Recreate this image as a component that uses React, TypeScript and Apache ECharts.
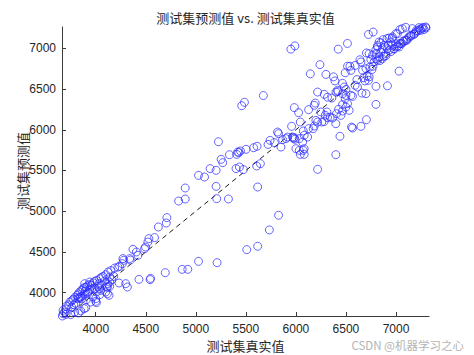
import React, { useEffect, useRef } from 'react';
import * as echarts from 'echarts';

const titleText = '测试集预测值 vs. 测试集真实值';
const xName = '测试集真实值';
const yName = '测试集预测值';
const watermark = 'CSDN @机器学习之心';
const xTicks = [4000, 4500, 5000, 5500, 6000, 6500, 7000];
const yTicks = [4000, 4500, 5000, 5500, 6000, 6500, 7000];
const xRange = [3663, 7330];
const yRange = [3713, 7262];
const diagonal = [3690, 7300];

// [actual, predicted]
const lowerLeftUpper = [
  [3667, 3713], [3675, 3740], [3690, 3760], [3674, 3783], [3700, 3800], [3708, 3832], [3730, 3850],
  [3741, 3885], [3760, 3900], [3774, 3918], [3790, 3940], [3814, 3967], [3825, 3985], [3840, 4008],
  [3860, 4030], [3873, 4049], [3890, 4065], [3907, 4069], [3920, 4085], [3940, 4100], [3957, 4090],
  [3975, 4120], [3990, 4139], [4010, 4150], [4040, 4172], [4055, 4185], [4073, 4200], [4100, 4220],
  [4123, 4253], [4150, 4270], [4189, 4302], [4222, 4314], [4239, 4323], [4266, 4356], [4272, 4418],
  [4279, 4397], [4339, 4418], [4345, 4400], [4372, 4532], [4406, 4499], [4422, 4458], [4488, 4540],
  [4498, 4560], [4521, 4621], [4531, 4663], [4588, 4676], [4626, 4806], [4705, 4855], [4711, 4921],
];

const lowerLeftBand = [
  [3823, 3926], [3830, 3940], [3845, 3935], [3850, 3950], [3860, 3925], [3870, 3960], [3890, 3979],
  [3897, 4020], [3907, 3914], [3923, 4008], [3940, 4030], [3960, 4045], [3973, 3946], [3990, 4049],
  [4007, 4008], [4020, 4075], [4033, 4110], [4040, 4049], [4060, 4090], [4090, 4142], [4107, 4069],
  [4120, 4110], [4140, 4130], [4140, 4192], [4160, 4160], [4180, 4200], [3890, 4110], [3940, 4130],
  [3920, 3990], [3800, 3870], [3780, 3850], [3760, 3820],
];

const lowerBranch = [
  [3703, 3733], [3750, 3730], [3790, 3762], [3827, 3750], [3850, 3775], [3884, 3803], [3900, 3815],
  [3950, 3885], [4000, 3893], [4007, 3877], [4000, 3926], [4040, 3975], [4050, 4028], [4100, 4008],
  [4117, 3988], [4133, 3967], [4117, 4069], [4140, 4077], [4233, 4118], [4299, 4110], [4316, 4069],
  [4432, 4163], [4548, 4175], [4543, 4160], [4695, 4245], [4864, 4286], [4920, 4286], [5027, 4384],
  [5213, 4368], [5509, 4528], [5618, 4569], [5735, 4770], [5827, 4950],
];

const middle = [
  [4894, 5285], [4894, 5150], [4828, 5125], [5027, 5440], [5087, 5420], [5143, 5523], [5203, 5502],
  [5253, 5637], [5269, 5596], [5336, 5694], [5203, 5305], [5209, 5154], [5326, 5150], [5409, 5698],
  [5419, 5727], [5429, 5720], [5446, 5740], [5402, 5523], [5436, 5543], [5476, 5511], [5502, 5760],
  [5578, 5780], [5612, 5797], [5608, 5555], [5645, 5584], [5618, 5297], [5226, 5853], [5459, 6295],
  [5486, 6337], [5675, 6420], [5722, 5820], [5742, 5870], [5785, 5842], [5817, 5972], [5827, 5952],
  [5851, 5788], [5901, 5891], [5867, 5879], [5917, 5911], [5967, 5911], [5984, 5903], [5990, 5883],
  [5975, 5895], [6034, 5891], [6067, 5849], [6117, 5911], [6000, 5768], [6034, 5747], [6044, 5698],
  [6083, 5698], [6074, 5747], [6083, 5768], [6217, 5514], [6399, 5694], [5957, 6042], [6044, 6095],
  [6074, 5985], [6083, 5932], [6127, 6014], [6173, 6014], [6183, 6046], [5984, 6272], [6027, 6210],
  [6127, 6247], [6183, 6300], [6193, 6328], [6250, 6218], [6310, 6218], [6293, 6177], [6200, 6115],
  [6217, 6095], [6260, 6095], [6283, 6102], [6316, 6149], [6343, 6156], [6366, 6144], [6406, 6198],
  [6426, 6251], [6466, 6309], [6450, 6177], [6399, 6075], [6440, 5920], [6566, 6021], [6650, 6042],
  [6705, 6124], [6800, 6312], [6532, 6239], [6493, 6382], [6516, 6321], [6360, 6390], [6500, 6279],
  [6466, 6230], [6556, 6033],
];

const upperScatter = [
  [5950, 6990], [5990, 7030], [6423, 6990], [6515, 7060], [6725, 7170], [6772, 7200], [6144, 6687],
  [6240, 6800], [6300, 6680], [6376, 6650], [6390, 6600], [6217, 6463], [6283, 6435], [6316, 6400],
  [6420, 6468], [6400, 6463], [6416, 6484], [6466, 6443], [6500, 6423], [6500, 6495], [6550, 6423],
  [6566, 6410], [6592, 6546], [6615, 6525], [6660, 6450], [6700, 6443], [6466, 6570], [6483, 6525],
  [6800, 6533], [6915, 6540], [7031, 6720], [6493, 6700], [6550, 6730], [6516, 6780], [6540, 6780],
  [6592, 6790], [6640, 6860], [6650, 6832], [6666, 6730], [6610, 6616], [6690, 6600], [6725, 6607],
  [6732, 6650], [6677, 6640], [6711, 6660], [6705, 6943], [6732, 6935], [6765, 6914], [6749, 6862],
  [6781, 6832], [6815, 6853], [6700, 6750], [6740, 6770], [6760, 6740],
];

const upperBand = [
  [6800, 6873], [6800, 6984], [6815, 7033], [6849, 7066], [6872, 7107], [6931, 7127], [6964, 7120],
  [6924, 7036], [6999, 7057], [7014, 7180], [7064, 7242], [7097, 7258], [7040, 7230], [6911, 7120],
  [6831, 7078], [6815, 7016], [6849, 6955], [6800, 6935], [6831, 6894], [6864, 6873], [6881, 7036],
  [6864, 6996], [6898, 6935], [6948, 7078], [6964, 7036], [6931, 6975], [6915, 6996], [7047, 7057],
  [7031, 7016], [6981, 6996], [6998, 7180], [6964, 7139], [7131, 7139], [7114, 7119], [7097, 7098],
  [7071, 7090], [7164, 7242], [7204, 7221], [7181, 7180], [7147, 7160], [7230, 7254], [7270, 7258],
  [7297, 7262], [7300, 7250], [7280, 7230], [7247, 7221], [7180, 7170], [7200, 7200], [7220, 7215],
  [7240, 7235], [7260, 7245], [7150, 7150], [7110, 7100], [7060, 7060], [7080, 7085], [7020, 7030],
  [6950, 6960], [6900, 6910], [6880, 6900], [6840, 6850], [6980, 6990], [7010, 7020], [7040, 7060],
  [6770, 6780],
];

const points = [
  ...lowerLeftUpper, ...lowerLeftBand, ...lowerBranch, ...middle, ...upperScatter, ...upperBand,
];

const axisColor = '#3a3a3a';
const numFont = 'Liberation Sans, Arial, sans-serif';
const cjkFont = 'Noto Sans CJK SC, sans-serif';

export default function App() {
  const ref = useRef<HTMLDivElement>(null);
  useEffect(() => {
    if (!ref.current) return;
    const chart = echarts.init(ref.current, null, { renderer: 'svg' });
    const axisCommon = {
      type: 'value' as const,
      splitLine: { show: false },
      axisLine: { show: true, lineStyle: { color: axisColor, width: 1 } },
      axisTick: { show: true, inside: true, length: 4, lineStyle: { color: axisColor, width: 1 } },
    };
    chart.setOption({
      animation: false,
      backgroundColor: '#ffffff',
      grid: { left: 62, right: 45, top: 27, bottom: 39, containLabel: false },
      xAxis: {
        ...axisCommon,
        min: xRange[0],
        max: xRange[1],
        axisTick: { ...axisCommon.axisTick, customValues: xTicks },
        axisLabel: {
          customValues: xTicks,
          formatter: (v: number) => String(v),
          color: '#262626',
          fontSize: 12,
          fontFamily: numFont,
          margin: 7,
        },
      },
      yAxis: {
        ...axisCommon,
        min: yRange[0],
        max: yRange[1],
        axisTick: { ...axisCommon.axisTick, customValues: yTicks },
        axisLabel: {
          customValues: yTicks,
          formatter: (v: number) => String(v),
          color: '#262626',
          fontSize: 12,
          fontFamily: numFont,
          margin: 6,
        },
      },
      series: [
        {
          type: 'line',
          data: [[diagonal[0], diagonal[0]], [diagonal[1], diagonal[1]]],
          symbol: 'none',
          lineStyle: { color: '#1a1a1a', width: 1, type: [5, 4] },
          z: 1,
        },
        {
          type: 'scatter',
          data: points,
          symbol: 'circle',
          symbolSize: 8,
          itemStyle: { color: 'rgba(0,0,0,0)', borderColor: '#2a2aff', borderWidth: 0.9 },
          z: 2,
        },
      ],
      graphic: [
        {
          type: 'text',
          x: 245.5,
          y: 17,
          style: {
            text: titleText,
            textAlign: 'center',
            textVerticalAlign: 'middle',
            fontSize: 13,
            fontFamily: cjkFont,
            fill: '#262626',
          },
        },
        {
          type: 'text',
          x: 245.5,
          y: 345,
          style: {
            text: xName,
            textAlign: 'center',
            textVerticalAlign: 'middle',
            fontSize: 13,
            fontFamily: cjkFont,
            fill: '#262626',
          },
        },
        {
          type: 'text',
          x: 22,
          y: 171,
          rotation: Math.PI / 2,
          style: {
            text: yName,
            textAlign: 'center',
            textVerticalAlign: 'middle',
            fontSize: 13,
            fontFamily: cjkFont,
            fill: '#262626',
          },
        },
        {
          type: 'text',
          x: 464,
          y: 345,
          style: {
            text: watermark,
            textAlign: 'right',
            textVerticalAlign: 'middle',
            fontSize: 11.5,
            fontFamily: cjkFont,
            fill: '#b4b4b4',
          },
        },
      ],
    });
    return () => chart.dispose();
  }, []);
  return (
    <div
      ref={ref}
      style={{ position: 'fixed', left: 0, top: 0, width: 474, height: 355, background: '#fff' }}
    />
  );
}
